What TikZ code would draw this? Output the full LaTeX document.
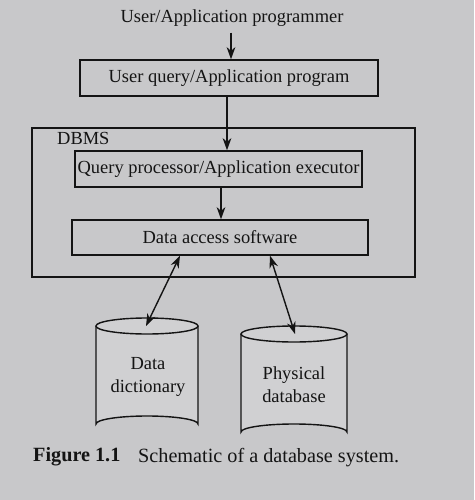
\documentclass[tikz,border=0pt]{standalone}
\usepackage{fontspec}
\setmainfont{Liberation Serif}
\usetikzlibrary{arrows.meta}
\definecolor{paper}{RGB}{200,200,202}
\definecolor{ink}{RGB}{20,20,20}
\begin{document}
\begin{tikzpicture}[x=0.02cm,y=-0.02cm,
  every node/.style={font=\fontsize{10.5}{12}\selectfont, text=ink},
  boxx/.style={draw=ink, line width=0.8pt, minimum height=0.72cm, inner sep=0pt},
  conn/.style={draw=ink, line width=0.8pt, -{Stealth[length=7pt,width=5pt]}},
  bconn/.style={draw=ink, line width=0.8pt, {Stealth[length=7pt,width=5pt]}-{Stealth[length=7pt,width=5pt]}},
  cyl/.style={draw=ink, line width=0.8pt, fill=paper!85!white}]
\fill[paper] (0,0) rectangle (474,500);
\useasboundingbox (0,0) rectangle (474,500);

% top text and boxes
\node (user) at (232,18) {User/Application programmer};
\node[boxx, minimum width=5.96cm] (uq) at (229,78) {User query/Application program};
\node[draw=ink, line width=0.8pt, minimum width=7.66cm, minimum height=2.98cm, inner sep=0pt] (dbms) at (223.5,202.5) {};
\node[anchor=base west] (dbmslbl) at (51,144) {DBMS};
\node[boxx, minimum width=5.74cm] (qp) at (218.5,169) {Query processor/Application executor};
\node[boxx, minimum width=5.92cm, minimum height=0.70cm] (das) at (220,237.5) {Data access software};

% cylinders
\draw[cyl] (96,326) -- (96,424) arc[start angle=180, end angle=360, x radius=51, y radius=8] -- (198,326);
\draw[cyl] (147,326) ellipse[x radius=51, y radius=8];
\coordinate (ddtop) at (146,326);
\node[align=center] (dd) at (148,377) {Data\\[1pt]dictionary};

\draw[cyl] (241,334) -- (241,432) arc[start angle=180, end angle=360, x radius=53, y radius=8] -- (347,334);
\draw[cyl] (294,334) ellipse[x radius=53, y radius=8];
\coordinate (pdtop) at (295,334);
\node[align=center] (pd) at (294,385) {Physical\\[1pt]database};

% connectors
\draw[conn] (user.south -| 231,0) -- (uq.north -| 231,0);
\draw[conn] (uq.south -| 227,0) -- (qp.north -| 227,0);
\draw[conn] (qp.south -| 221,0) -- (das.north -| 221,0);
\coordinate (a1) at (das.south -| 180,0);
\coordinate (a2) at (das.south -| 270,0);
\draw[bconn] (a1) -- (ddtop);
\draw[bconn] (a2) -- (pdtop);

% caption
\node[anchor=base west, font=\fontsize{11.5}{13}\selectfont\bfseries] (fig) at (27,461) {Figure 1.1};
\node[anchor=base west, font=\fontsize{11.5}{13}\selectfont] (cap) at (132,462) {Schematic of a database system.};
\end{tikzpicture}
\end{document}
